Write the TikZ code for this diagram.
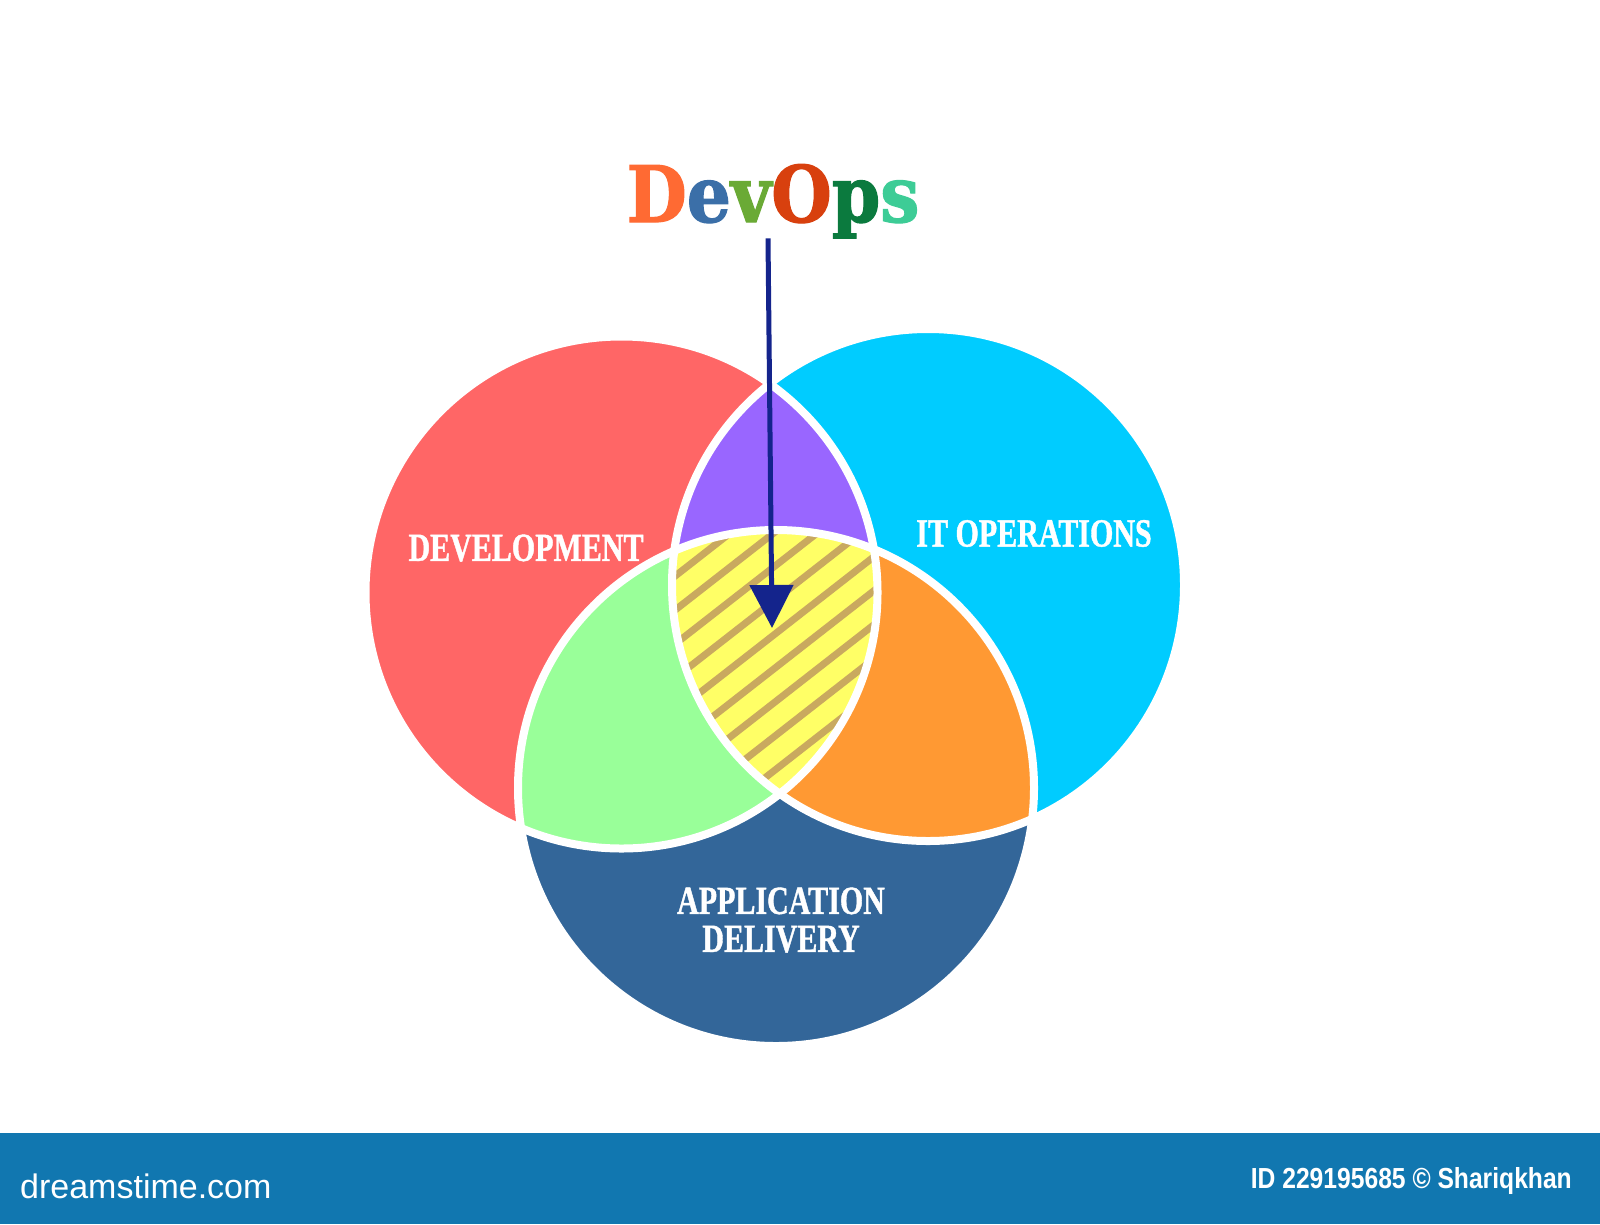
\documentclass[tikz,border=0pt]{standalone}
\usepackage{fontspec}
\usetikzlibrary{arrows.meta}
\newfontfamily\titlefont[FakeStretch=0.89,FakeBold=1.5]{DejaVu Serif}
\newfontfamily\labelfont[FakeStretch=0.75,FakeBold=1]{Liberation Serif}
\newfontfamily\sitefont{Liberation Sans}
\newfontfamily\creditfont[FakeStretch=0.85]{Liberation Sans}
\definecolor{devred}{RGB}{255,102,102}
\definecolor{opsblue}{RGB}{0,204,255}
\definecolor{appblue}{RGB}{51,102,153}
\definecolor{lensviolet}{RGB}{153,102,255}
\definecolor{lensgreen}{RGB}{153,255,153}
\definecolor{lensorange}{RGB}{255,153,51}
\definecolor{coreyellow}{RGB}{255,255,102}
\definecolor{stripetan}{RGB}{201,169,95}
\definecolor{arrownavy}{RGB}{20,36,140}
\definecolor{barblue}{RGB}{17,119,176}
\definecolor{ttlD}{RGB}{255,106,51}
\definecolor{ttle}{RGB}{59,111,168}
\definecolor{ttlv}{RGB}{106,170,53}
\definecolor{ttlO}{RGB}{216,64,14}
\definecolor{ttlp}{RGB}{11,122,62}
\definecolor{ttls}{RGB}{61,204,150}
\begin{document}
\begin{tikzpicture}
[x=1pt,y=-1pt,
  rim/.style={draw=white,line width=8pt},
  setlabel/.style={text=white,inner sep=0pt,align=center,
    font={\labelfont\bfseries\fontsize{40}{38}\selectfont}},
  stripe/.style={draw=stripetan,line width=7pt},
  pointer/.style={-{Triangle[width=43pt,length=43pt]},draw=arrownavy,line width=5pt},
  titletext/.style={inner sep=0pt,font={\titlefont\bfseries\fontsize{78}{80}\selectfont}},
  bartext/.style={text=white,inner sep=0pt}]
\useasboundingbox (0,0) rectangle (1600,1224);
\fill[white] (0,0) rectangle (1600,1224);
%% circle centres
\coordinate (cdev) at (621.5,592.5);
\coordinate (cops) at (928,585);
\coordinate (capp) at (776,788);
%% the three sets
\fill[devred] (cdev) circle (256);
\fill[opsblue] (cops) circle (256);
\fill[appblue] (capp) circle (258);
%% overlaps
\begin{scope}
  \clip (cdev) circle (256);
  \fill[lensviolet] (cops) circle (256);
  \fill[lensgreen] (capp) circle (258);
\end{scope}
\begin{scope}
  \clip (cops) circle (256);
  \fill[lensorange] (capp) circle (258);
\end{scope}
\begin{scope}
  \clip (cdev) circle (256);
  \clip (cops) circle (256);
  \clip (capp) circle (258);
  \fill[coreyellow] (500,450) rectangle (1050,850);
  \foreach \y in {430,464,...,1000} {
    \draw[stripe] (560,\y+168) -- (990,\y-168);
  }
\end{scope}
%% white rims
\draw[rim] (cdev) circle (256);
\draw[rim] (cops) circle (256);
\draw[rim] (capp) circle (258);
%% labels
\node[setlabel] (dev) at (526,548) {DEVELOPMENT};
\node[setlabel] (ops) at (1034,533.5) {IT OPERATIONS};
\node[setlabel] (appdel) at (781,920) {APPLICATION\\DELIVERY};
%% title and arrow
\node[titletext,anchor=base] (devops) at (773,222)
  {\textcolor{ttlD}{D}\textcolor{ttle}{e}\textcolor{ttlv}{v}\textcolor{ttlO}{O}\textcolor{ttlp}{p}\textcolor{ttls}{s}};
\coordinate (hit) at (772,628);
\draw[pointer] ([xshift=-5pt]devops.south) -- (hit);
%% bottom bar
\fill[barblue] (0,1133) rectangle (1600,1224);
\node[bartext,anchor=west,font={\sitefont\fontsize{34}{36}\selectfont}] (site) at (20,1186) {dreamstime.com};
\node[bartext,anchor=east,font={\creditfont\bfseries\fontsize{29}{31}\selectfont}] (credit) at (1572,1181) {ID 229195685 © Shariqkhan};
\end{tikzpicture}
\end{document}
